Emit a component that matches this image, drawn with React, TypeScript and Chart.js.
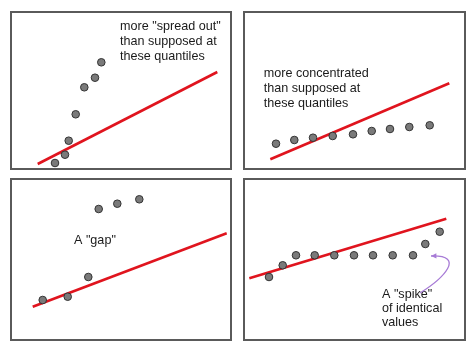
import React, { useEffect, useRef } from "react";
import { Chart, registerables } from "chart.js";

Chart.register(...registerables);

// ---- Data (panel-relative units) ----
const P1_X = [44, 54, 57.7, 64.7, 73.3, 84, 90.3];
const P1_Y = [6, 14.3, 28.3, 54.7, 81.7, 91.3, 106.7];
const P1_LINE_X = [26.7, 206.3];
const P1_LINE_Y = [5, 97];
const P1_TEXT = ['more "spread out"', "than supposed at", "these quantiles"];

const P2_X = [32, 50.3, 69, 88.7, 109, 127.7, 146, 165.3, 185.7];
const P2_Y = [25.3, 29, 31.3, 33, 34.7, 38, 40, 42, 43.7];
const P2_LINE_X = [26.3, 205.3];
const P2_LINE_Y = [9.7, 85.7];
const P2_TEXT = ["more concentrated", "than supposed at", "these quantiles"];

const P3_X = [31.7, 56.7, 77.3, 87.7, 106.3, 128.3];
const P3_Y = [40, 43.3, 63, 131, 136.3, 140.7];
const P3_LINE_X = [21.7, 215.7];
const P3_LINE_Y = [33.3, 106.7];
const P3_TEXT = ['A "gap"'];

const P4_X = [25, 38.7, 52, 70.7, 90.3, 110, 129, 148.7, 169, 181.3, 195.7];
const P4_Y = [63, 74.7, 84.7, 84.7, 84.7, 84.7, 84.7, 84.7, 84.7, 96, 108.3];
const P4_LINE_X = [5.3, 202.3];
const P4_LINE_Y = [61.7, 121.3];
const P4_TEXT = ['A "spike"', "of identical", "values"];

type Panel = {
  left: number;
  top: number;
  right: number;
  bottom: number;
  xs: number[];
  ys: number[];
  lx: number[];
  ly: number[];
  text: string[];
  textX: number;
  textY: number[];
  arrow?: number[][];
};

const PANELS: Panel[] = [
  { left: 11, top: 12, right: 231, bottom: 169, xs: P1_X, ys: P1_Y, lx: P1_LINE_X, ly: P1_LINE_Y, text: P1_TEXT, textX: 109, textY: [142.3, 127, 112.3] },
  { left: 244, top: 12, right: 465, bottom: 169, xs: P2_X, ys: P2_Y, lx: P2_LINE_X, ly: P2_LINE_Y, text: P2_TEXT, textX: 19.7, textY: [95, 80.3, 65.7] },
  { left: 11, top: 179, right: 231, bottom: 340, xs: P3_X, ys: P3_Y, lx: P3_LINE_X, ly: P3_LINE_Y, text: P3_TEXT, textX: 63, textY: [99.7] },
  {
    left: 244, top: 179, right: 465, bottom: 340, xs: P4_X, ys: P4_Y, lx: P4_LINE_X, ly: P4_LINE_Y, text: P4_TEXT, textX: 138, textY: [45.3, 31, 17],
    arrow: [[176, 47], [200, 62], [222, 85], [187, 84]],
  },
];

const FONT = '12.6px "Liberation Sans", Arial, sans-serif';

function PanelChart({ p }: { p: Panel }) {
  const ref = useRef<HTMLCanvasElement>(null);
  const w = p.right - p.left + 2;
  const h = p.bottom - p.top + 2;
  useEffect(() => {
    if (!ref.current) return;
    const deco = {
      id: "deco",
      afterDatasetsDraw(chart: any) {
        const ctx = chart.ctx;
        const xs = chart.scales.x;
        const ys = chart.scales.y;
        ctx.save();
        // frame
        ctx.strokeStyle = "#5a5a5a";
        ctx.lineWidth = 2;
        ctx.strokeRect(xs.getPixelForValue(0), ys.getPixelForValue(p.bottom - p.top), xs.getPixelForValue(p.right - p.left) - xs.getPixelForValue(0), ys.getPixelForValue(0) - ys.getPixelForValue(p.bottom - p.top));
        // text
        ctx.fillStyle = "#1a1a1a";
        ctx.font = FONT;
        ctx.textBaseline = "middle";
        ctx.textAlign = "left";
        p.text.forEach((t, i) => {
          ctx.fillText(t, xs.getPixelForValue(p.textX), ys.getPixelForValue(p.textY[i]));
        });
        // arrow
        if (p.arrow) {
          const pts = p.arrow.map(([a, b]) => [xs.getPixelForValue(a), ys.getPixelForValue(b)]);
          ctx.strokeStyle = "#a77bd6";
          ctx.fillStyle = "#a77bd6";
          ctx.lineWidth = 1.3;
          ctx.beginPath();
          ctx.moveTo(pts[0][0], pts[0][1]);
          ctx.bezierCurveTo(pts[1][0], pts[1][1], pts[2][0], pts[2][1], pts[3][0], pts[3][1]);
          ctx.stroke();
          const [ex, ey] = pts[3];
          const ang = Math.atan2(ey - pts[2][1], ex - pts[2][0]);
          const L = 6;
          ctx.beginPath();
          ctx.moveTo(ex, ey);
          ctx.lineTo(ex - L * Math.cos(ang - 0.45), ey - L * Math.sin(ang - 0.45));
          ctx.lineTo(ex - L * Math.cos(ang + 0.45), ey - L * Math.sin(ang + 0.45));
          ctx.closePath();
          ctx.fill();
        }
        ctx.restore();
      },
    };
    const chart = new Chart(ref.current, {
      type: "scatter",
      data: {
        datasets: [
          {
            type: "line",
            data: p.lx.map((x, i) => ({ x, y: p.ly[i] })),
            borderColor: "#e0141e",
            borderWidth: 2.6,
            pointRadius: 0,
            showLine: true,
            fill: false,
            clip: false,
            order: 2,
          } as any,
          {
            type: "scatter",
            data: p.xs.map((x, i) => ({ x, y: p.ys[i] })),
            backgroundColor: "#7a7a7a",
            borderColor: "#333333",
            borderWidth: 1,
            pointRadius: 3.8,
            clip: false,
            order: 1,
          } as any,
        ],
      },
      options: {
        animation: false,
        responsive: false,
        devicePixelRatio: 1,
        layout: { padding: 0, autoPadding: false },
        plugins: { legend: { display: false }, tooltip: { enabled: false } },
        events: [],
        scales: {
          x: { type: "linear", display: false, min: -1, max: p.right - p.left + 1 },
          y: { type: "linear", display: false, min: -1, max: p.bottom - p.top + 1 },
        },
      } as any,
      plugins: [deco],
    });
    return () => chart.destroy();
  }, []);
  return (
    <div style={{ position: "absolute", left: p.left - 1, top: p.top - 1, width: w, height: h }}>
      <canvas ref={ref} width={w} height={h} style={{ display: "block", width: w, height: h }} />
    </div>
  );
}

export default function App() {
  return (
    <div style={{ position: "absolute", left: 0, top: 0, width: 474, height: 353, background: "#fff", overflow: "hidden" }}>
      {PANELS.map((p, i) => (
        <PanelChart key={i} p={p} />
      ))}
    </div>
  );
}
